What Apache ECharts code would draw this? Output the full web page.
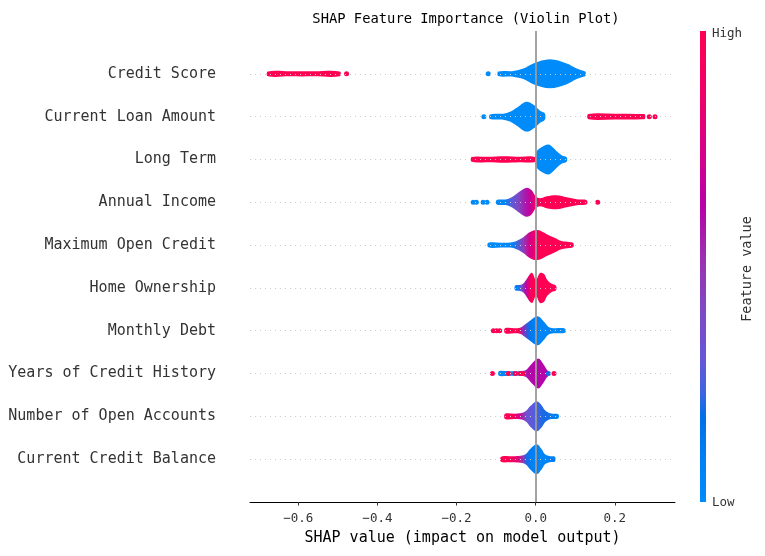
<!DOCTYPE html>
<html><head><meta charset="utf-8">
<script src="https://cdn.jsdelivr.net/npm/echarts@6/dist/echarts.min.js"></script>
<style>html,body{margin:0;padding:0;background:#fff}#c{width:765px;height:556px}</style>
</head><body><div id="c"></div>
<script>
// Features, bottom row (index 0) to top row (index 9)
const features = ['Current Credit Balance','Number of Open Accounts','Years of Credit History','Monthly Debt','Home Ownership','Maximum Open Credit','Annual Income','Long Term','Current Loan Amount','Credit Score'];
const xTicks = [-0.6, -0.4, -0.2, 0.0, 0.2];
const rowTicks = [0,1,2,3,4,5,6,7,8,9];
const colorbarLabels = ['High', 'Low'];

// Violin profiles: [SHAP value, relative density (1 = widest), feature value (0 low .. 1 high)]
const creditScoreHigh = [[-0.677,0.16,1],[-0.62,0.17,1],[-0.56,0.17,1],[-0.495,0.16,1]];
const creditScoreLow = [[-0.0945,0.15,0],[-0.0566,0.19,0],[-0.0313,0.35,0],[-0.006,0.69,0],[0.0361,0.97,0],[0.0783,0.69,0],[0.1036,0.35,0],[0.1203,0.2,0],[0.1259,0.13,0]];
const creditScoreDots = [[-0.478,1],[-0.120,0]];

const loanLow = [[-0.1155,0.15,0],[-0.0819,0.2,0],[-0.065,0.33,0],[-0.048,0.6,0],[-0.0227,1.0,0],[-0.0018,0.73,0],[0.0109,0.4,0],[0.021,0.27,0],[0.0243,0.13,0]];
const loanHigh = [[0.133,0.17,1],[0.2,0.19,1],[0.27,0.17,1],[0.276,0.14,1]];
const loanDots = [[-0.131,0],[0.287,1],[0.3015,1]];

const longTermHigh = [[-0.1617,0.16,1],[-0.12,0.18,1],[-0.08,0.22,1],[-0.04,0.18,1],[-0.002,0.17,1]];
const longTermLow = [[0.0008,0.45,0],[0.0134,0.8,0],[0.0318,1.0,0],[0.0437,0.8,0],[0.0538,0.53,0],[0.0664,0.27,0],[0.0783,0.15,0]];

const incomeShape = [[-0.0986,0.15,0],[-0.0733,0.2,0.05],[-0.0566,0.4,0.28],[-0.0397,0.73,0.42],[-0.0227,0.97,0.58],[-0.0101,0.8,0.7],[0,0.4,0.85],[0.0109,0.27,0.95],[0.0278,0.4,1],[0.0531,0.47,1],[0.0783,0.33,1],[0.1036,0.2,1],[0.1289,0.14,1]];
const incomeDots = [[-0.158,0],[-0.150,0],[-0.133,0],[-0.123,0],[0.1567,1]];

const maxCreditShape = [[-0.1198,0.15,0],[-0.085,0.16,0],[-0.0566,0.2,0.05],[-0.0313,0.53,0.45],[-0.0144,0.87,0.75],[0.005,1.0,0.97],[0.0278,0.73,1],[0.0488,0.47,1],[0.0657,0.27,1],[0.085,0.2,1],[0.095,0.13,1]];

const homeShape = [[-0.0523,0.15,0],[-0.0397,0.2,0.1],[-0.0313,0.3,0.35],[-0.0227,0.6,0.6],[-0.0144,0.93,0.85],[-0.0086,1.0,1],[0.0008,0.55,1],[0.0109,1.0,1],[0.021,0.93,1],[0.0293,0.53,1],[0.0404,0.27,1],[0.0513,0.15,1]];

const debtShape = [[-0.0776,0.16,1],[-0.0523,0.17,1],[-0.0397,0.2,1],[-0.0313,0.33,0.55],[-0.0144,0.67,0.15],[0.0051,0.97,0.05],[0.021,0.6,0.05],[0.0318,0.27,0.05],[0.0445,0.17,0.02],[0.0741,0.14,0]];
const debtDots = [[-0.107,1],[-0.099,1],[-0.091,1]];

const yearsShape = [[-0.093,0.15,0],[-0.07,0.15,0.05],[-0.045,0.15,0.1],[-0.03,0.18,0.4],[-0.0227,0.27,0.6],[-0.0094,0.67,0.62],[0.0066,1.0,0.62],[0.0184,0.67,0.62],[0.0278,0.27,0.6],[0.032,0.14,0.4]];
const yearsDots = [[-0.1094,1],[-0.069,1],[-0.052,1],[-0.039,1],[-0.032,1],[0.032,0.2],[0.0462,1]];

const openAccShape = [[-0.0776,0.17,1],[-0.0523,0.18,1],[-0.0397,0.2,0.75],[-0.0313,0.25,0.55],[-0.0227,0.4,0.35],[-0.0144,0.67,0.3],[0.0025,1.0,0.25],[0.0152,0.73,0.2],[0.0235,0.4,0.2],[0.0361,0.2,0.1],[0.0571,0.14,0]];

const balanceShape = [[-0.0877,0.17,1],[-0.065,0.2,1],[-0.0447,0.22,0.85],[-0.0313,0.27,0.5],[-0.0227,0.4,0.2],[-0.0144,0.67,0.1],[0.0025,1.0,0.05],[0.0152,0.67,0.05],[0.0235,0.33,0.05],[0.0361,0.2,0.1],[0.0488,0.15,0.1]];

// Assemble (row index -> shapes / dots)
const violinParts = [
  [9, creditScoreHigh], [9, creditScoreLow],
  [8, loanLow], [8, loanHigh],
  [7, longTermHigh], [7, longTermLow],
  [6, incomeShape], [5, maxCreditShape], [4, homeShape],
  [3, debtShape], [2, yearsShape], [1, openAccShape], [0, balanceShape]
];
const dotParts = [[9, creditScoreDots], [8, loanDots], [6, incomeDots], [3, debtDots], [2, yearsDots]];

// SHAP red-blue colormap
const cmapStops = [[0,'#008bfb'],[0.09,'#0080f4'],[0.18,'#0070e8'],[0.23,'#3c64e0'],[0.30,'#6458d8'],[0.41,'#8048c4'],[0.52,'#9c30b0'],[0.63,'#b800a8'],[0.73,'#d4008c'],[0.87,'#f00068'],[1,'#ff0052']];
function hex2rgb(h){return [parseInt(h.substr(1,2),16),parseInt(h.substr(3,2),16),parseInt(h.substr(5,2),16)];}
function cmapColor(t){
  t = Math.max(0, Math.min(1, t));
  for (let i = 1; i < cmapStops.length; i++) {
    if (t <= cmapStops[i][0]) {
      const a = cmapStops[i-1], b = cmapStops[i];
      const f = (t - a[0]) / (b[0] - a[0] || 1);
      const ca = hex2rgb(a[1]), cb = hex2rgb(b[1]);
      const c = ca.map((v, k) => Math.round(v + (cb[k] - v) * f));
      return 'rgb(' + c.join(',') + ')';
    }
  }
  return cmapStops[cmapStops.length-1][1];
}

const HALF = 0.35; // row units for density 1
const FONT = 'DejaVu Sans Mono';

function violinSeries(row, pts) {
  return {
    type: 'custom', coordinateSystem: 'cartesian2d', z: 3, silent: true,
    data: pts.map(p => [p[0], row]),
    renderItem: function (params, api) {
      if (params.dataIndex !== 0) return null;
      const top = [], bot = [];
      pts.forEach(p => {
        top.push(api.coord([p[0], row + p[1] * HALF]));
        bot.push(api.coord([p[0], row - p[1] * HALF]));
      });
      const poly = top.concat(bot.slice().reverse());
      const x0 = top[0][0], x1 = top[top.length - 1][0];
      const stops = pts.map((p, i) => ({offset: Math.max(0, Math.min(1, (top[i][0] - x0) / ((x1 - x0) || 1))), color: cmapColor(p[2])}));
      return {
        type: 'polygon',
        shape: {points: poly, smooth: 0.35},
        style: {fill: {type: 'linear', x: x0 - 3, y: 0, x2: x1 + 3, y2: 0, global: true, colorStops: stops}, stroke: null}
      };
    }
  };
}

const series = [];
// row guide lines + zero line
series.push({
  type: 'scatter', data: [], z: 1, silent: true,
  markLine: {silent: true, symbol: 'none', label: {show: false}, animation: false,
    lineStyle: {color: '#cccccc', width: 1, type: [1, 4]},
    data: rowTicks.map(i => ({yAxis: i}))}
});
violinParts.forEach(vp => series.push(violinSeries(vp[0], vp[1])));
dotParts.forEach(dp => series.push({
  type: 'scatter', z: 4, silent: true, symbol: 'circle', symbolSize: 5,
  data: dp[1].map(d => [d[0], dp[0], d[1]]),
  itemStyle: {color: p => cmapColor(p.value[2]), opacity: 1}
}));
series.push({
  type: 'scatter', data: [], z: 10, silent: true,
  markLine: {silent: true, symbol: 'none', label: {show: false}, animation: false,
    lineStyle: {color: '#999999', width: 1.8, type: 'solid'},
    data: [{xAxis: 0}]}
});

const chart = echarts.init(document.getElementById('c'), null, {renderer: 'canvas'});
chart.setOption({
  animation: false,
  backgroundColor: '#ffffff',
  title: {text: 'SHAP Feature Importance (Violin Plot)', left: 461, textAlign: 'center', top: 7,
    textStyle: {fontFamily: FONT, fontSize: 13.8, fontWeight: 'normal', color: '#000'}},
  grid: {left: 250, right: 90, top: 31, bottom: 54},
  xAxis: {
    type: 'value', min: -0.722, max: 0.352,
    name: 'SHAP value (impact on model output)', nameLocation: 'middle', nameGap: 29,
    nameTextStyle: {fontFamily: FONT, fontSize: 15, color: '#000'},
    axisLine: {show: true, onZero: false, lineStyle: {color: '#000', width: 1}},
    axisTick: {show: true, customValues: xTicks, length: 3.5, lineStyle: {color: '#333'}},
    axisLabel: {customValues: xTicks, fontFamily: FONT, fontSize: 12.5, color: '#333', margin: 10,
      formatter: v => (v < -1e-9 ? '\u2212' : '') + Math.abs(v).toFixed(1)},
    splitLine: {show: false}
  },
  yAxis: {
    type: 'value', min: -1, max: 10,
    axisLine: {show: false}, axisTick: {show: false}, splitLine: {show: false},
    axisLabel: {customValues: rowTicks, fontFamily: FONT, fontSize: 15, color: '#333', margin: 34,
      padding: [4, 0, 0, 0],
      formatter: v => features[Math.round(v)] || ''}
  },
  graphic: [
    {type: 'rect', left: 700, top: 31, z: 5, shape: {x: 0, y: 0, width: 6, height: 471},
      style: {fill: {type: 'linear', x: 0, y: 1, x2: 0, y2: 0, colorStops: cmapStops.map(s => ({offset: s[0], color: s[1]}))}}},
    {type: 'text', x: 712, y: 34, style: {text: colorbarLabels[0], font: '12.5px "' + FONT + '"', fill: '#333', textAlign: 'left', textVerticalAlign: 'middle', align: 'left', verticalAlign: 'middle'}},
    {type: 'text', x: 712, y: 503, style: {text: colorbarLabels[1], font: '12.5px "' + FONT + '"', fill: '#333', textAlign: 'left', textVerticalAlign: 'middle', align: 'left', verticalAlign: 'middle'}},
    {type: 'text', x: 747, y: 269, rotation: Math.PI / 2, style: {text: 'Feature value', font: '13.5px "' + FONT + '"', fill: '#333', textAlign: 'center', textVerticalAlign: 'middle', align: 'center', verticalAlign: 'middle'}}
  ],
  series: series
});
</script>
</body></html>
